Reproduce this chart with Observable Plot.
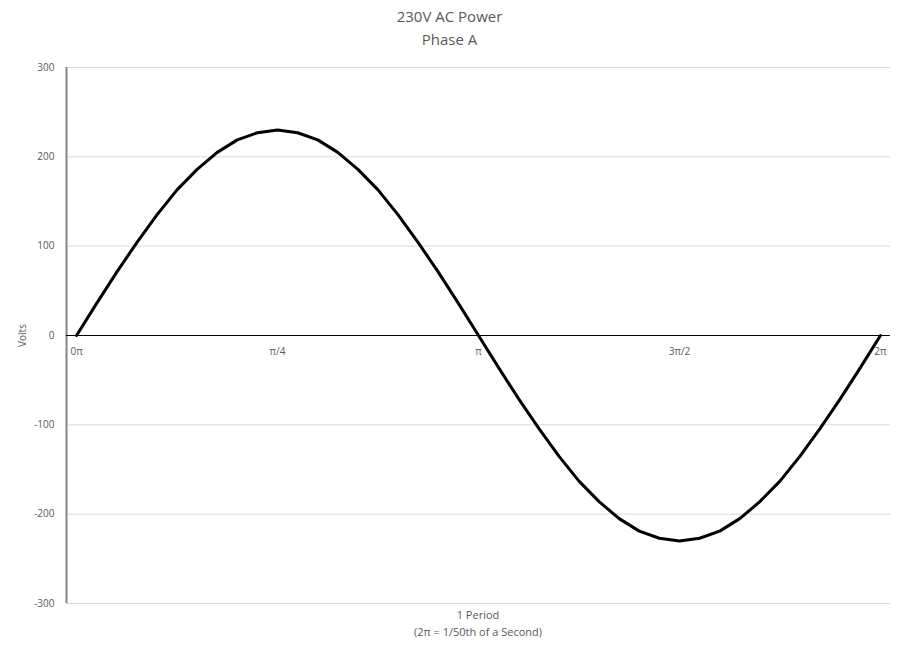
<!DOCTYPE html>
<html>
<head>
<meta charset="utf-8">
<script src="https://cdn.jsdelivr.net/npm/d3@7"></script>
<script src="https://cdn.jsdelivr.net/npm/@observablehq/plot@0.6"></script>
<style>
  body { margin: 0; background: #fff; font-family: "Open Sans", "Noto Sans", sans-serif; }
  #title { height: 56px; box-sizing: border-box; padding-top: 5px; text-align: center; color: #595959; font-size: 15px; line-height: 23px; }
  #caption { box-sizing: border-box; padding-left: 66px; padding-right: 9px; text-align: center; color: #595959; font-size: 11px; line-height: 17px; margin-top: -1px; }
  svg { display: block; }
</style>
</head>
<body>
<div id="title">230V AC Power<br>Phase A</div>
<div id="chart"></div>
<div id="caption">1 Period<br>(2π = 1/50th of a Second)</div>
<script>
const step = d3.range(0, 41);
const volts = [0, 36, 71, 104, 135, 163, 186, 205, 219, 227, 230, 227, 219, 205, 186, 163, 135, 104, 71, 36,
  0, -36, -71, -104, -135, -163, -186, -205, -219, -227, -230, -227, -219, -205, -186, -163, -135, -104, -71, -36, 0];
const tickPos = [0, 10, 20, 30, 40];
const tickLabels = ["0π", "π/4", "π", "3π/2", "2π"];
const yTicks = [300, 200, 100, 0, -100, -200, -300];

const data = step.map((s, i) => ({s, v: volts[i]}));
const ticks = tickPos.map((p, i) => ({p, t: tickLabels[i]}));

const chart = Plot.plot({
  width: 899,
  height: 551,
  marginLeft: 66,
  marginRight: 9,
  marginTop: 11,
  marginBottom: 4,
  style: {fontFamily: "'Open Sans', 'Noto Sans', sans-serif", fontSize: "10px", color: "#595959", overflow: "visible"},
  x: {domain: [-0.5, 40.5], axis: null},
  y: {domain: [-300, 300]},
  marks: [
    Plot.gridY(yTicks, {stroke: "#d9d9d9", strokeOpacity: 1, strokeWidth: 1}),
    Plot.axisY(yTicks, {tickSize: 0, tickPadding: 12, fill: "#595959", fontSize: 10, tickFormat: d => String(d), label: "Volts", labelAnchor: "center", labelArrow: "none", labelOffset: 48}),
    Plot.ruleX([-0.5], {stroke: "#868686", strokeWidth: 2}),
    Plot.ruleY([0], {stroke: "#000", strokeWidth: 1.2}),
    Plot.text(ticks, {x: "p", y: 0, text: "t", dy: 16, fill: "#595959", fontSize: 10}),
    Plot.line(data, {x: "s", y: "v", stroke: "#000", strokeWidth: 3})
  ]
});
document.getElementById("chart").append(chart);
</script>
</body>
</html>
